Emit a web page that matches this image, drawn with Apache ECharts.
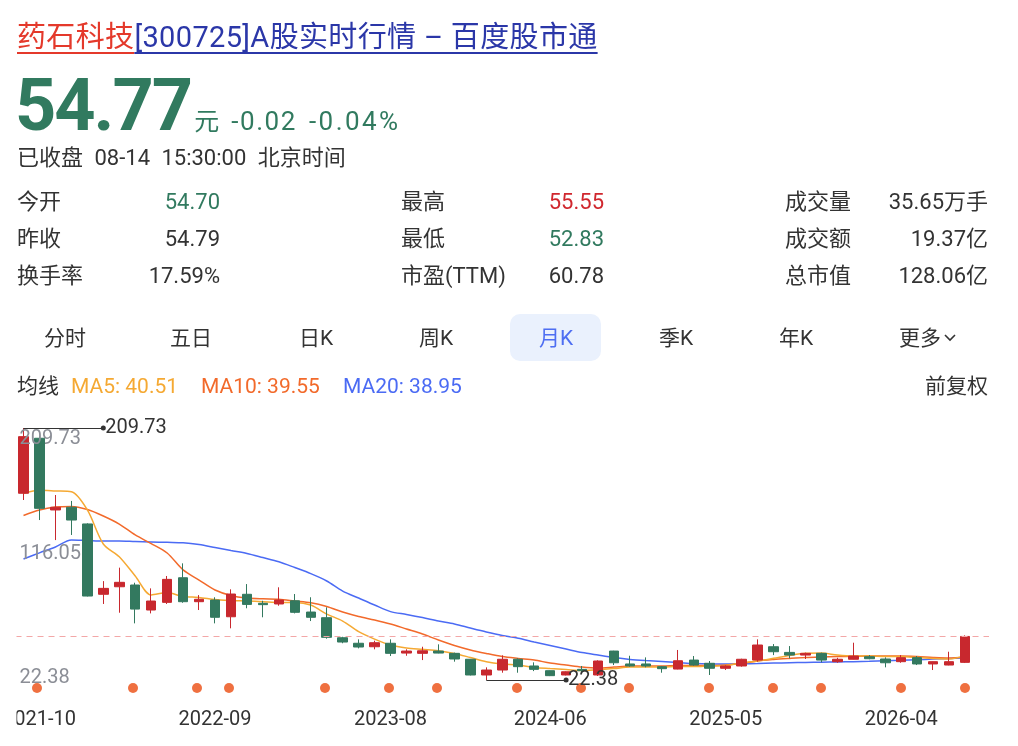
<!DOCTYPE html>
<html><head><meta charset="utf-8">
<script src="https://cdn.jsdelivr.net/npm/echarts@6/dist/echarts.min.js"></script>
<style>
body{margin:0;background:#fff;font-family:Roboto,"Noto Sans CJK SC",sans-serif;color:#333;}
#chart{position:absolute;left:0;top:0;width:1018px;height:746px;}
.h{position:absolute;white-space:nowrap;z-index:2;}
.r{text-align:right;}
.tab{position:absolute;width:100px;text-align:center;font-size:21px;line-height:30px;top:323px;z-index:2;color:#333;}
</style></head><body>
<div id="chart"></div>
<div class="h" style="left:17px;top:18px;font-size:29px;line-height:38px;letter-spacing:0.35px;">
<span style="color:#e4392b;text-decoration:underline;text-decoration-thickness:2px;text-underline-offset:5px;">药石科技</span><span style="color:#2b37a8;text-decoration:underline;text-decoration-thickness:2px;text-underline-offset:5px;">[300725]A股实时行情 – 百度股市通</span>
</div>
<div class="h" style="left:15px;top:66px;display:flex;align-items:baseline;color:#317a5f;">
<span style="font-size:72px;font-weight:700;letter-spacing:-2px;line-height:80px;">54.77</span>
<span style="font-size:25px;margin-left:3px;">元</span>
<span style="font-size:26px;margin-left:12px;letter-spacing:1.6px;">-0.02</span>
<span style="font-size:26px;margin-left:12px;letter-spacing:2.4px;">-0.04%</span>
</div>
<div class="h" style="left:17px;top:143px;font-size:22px;line-height:30px;word-spacing:6px;">已收盘 08-14 15:30:00 北京时间</div>

<div class="h" style="left:17px;top:187px;font-size:22px;line-height:30px;">今开</div>
<div class="h r" style="right:798px;top:187px;font-size:22px;line-height:30px;color:#317a5f;">54.70</div>
<div class="h" style="left:17px;top:224px;font-size:22px;line-height:30px;">昨收</div>
<div class="h r" style="right:798px;top:224px;font-size:22px;line-height:30px;">54.79</div>
<div class="h" style="left:17px;top:261px;font-size:22px;line-height:30px;">换手率</div>
<div class="h r" style="right:798px;top:261px;font-size:22px;line-height:30px;">17.59%</div>

<div class="h" style="left:401px;top:187px;font-size:22px;line-height:30px;">最高</div>
<div class="h r" style="right:414px;top:187px;font-size:22px;line-height:30px;color:#d0272e;">55.55</div>
<div class="h" style="left:401px;top:224px;font-size:22px;line-height:30px;">最低</div>
<div class="h r" style="right:414px;top:224px;font-size:22px;line-height:30px;color:#317a5f;">52.83</div>
<div class="h" style="left:401px;top:261px;font-size:22px;line-height:30px;">市盈(TTM)</div>
<div class="h r" style="right:414px;top:261px;font-size:22px;line-height:30px;">60.78</div>

<div class="h" style="left:785px;top:187px;font-size:22px;line-height:30px;">成交量</div>
<div class="h r" style="right:30px;top:187px;font-size:22px;line-height:30px;">35.65万手</div>
<div class="h" style="left:785px;top:224px;font-size:22px;line-height:30px;">成交额</div>
<div class="h r" style="right:30px;top:224px;font-size:22px;line-height:30px;">19.37亿</div>
<div class="h" style="left:785px;top:261px;font-size:22px;line-height:30px;">总市值</div>
<div class="h r" style="right:30px;top:261px;font-size:22px;line-height:30px;">128.06亿</div>

<div style="position:absolute;left:510px;top:314px;width:91px;height:47px;border-radius:10px;background:#eaf1fd;z-index:1;"></div>
<div class="tab" style="left:15px;">分时</div>
<div class="tab" style="left:141px;">五日</div>
<div class="tab" style="left:266px;">日K</div>
<div class="tab" style="left:386px;">周K</div>
<div class="tab" style="left:506px;color:#4e6ef2;">月K</div>
<div class="tab" style="left:626px;">季K</div>
<div class="tab" style="left:746px;">年K</div>
<div class="tab" style="left:878px;">更多<svg width="14" height="10" viewBox="0 0 14 10" style="margin-left:2px;vertical-align:2px;"><polyline points="2,2 7,7 12,2" fill="none" stroke="#333" stroke-width="1.6"/></svg></div>

<div class="h" style="left:17px;top:371px;font-size:21px;line-height:30px;">均线</div>
<div class="h" style="left:71px;top:371px;font-size:21px;line-height:30px;color:#f5a933;">MA5: 40.51</div>
<div class="h" style="left:201px;top:371px;font-size:21px;line-height:30px;color:#f26a2b;">MA10: 39.55</div>
<div class="h" style="left:343px;top:371px;font-size:21px;line-height:30px;color:#4b6bf4;">MA20: 38.95</div>
<div class="h r" style="right:30px;top:371px;font-size:21px;line-height:30px;">前复权</div>

<script>
const categories = ['2021-09','2021-10','2021-11','2021-12','2022-01','2022-02','2022-03','2022-04','2022-05','2022-06',
'2022-07','2022-08','2022-09','2022-10','2022-11','2022-12','2023-01','2023-02','2023-03','2023-04',
'2023-05','2023-06','2023-07','2023-08','2023-09','2023-10','2023-11','2023-12','2024-01','2024-02',
'2024-03','2024-04','2024-05','2024-06','2024-07','2024-08','2024-09','2024-10','2024-11','2024-12',
'2025-01','2025-02','2025-03','2025-04','2025-05','2025-06','2025-07','2025-08','2025-09','2025-10',
'2025-11','2025-12','2026-01','2026-02','2026-03','2026-04','2026-05','2026-06','2026-07','2026-08'];
const opens  = [161.2,202.1,148.8,150.8,138.4,86.1,91.7,93.0,74.4,80.1, 98.4,80.6,81.8,69.4,86.1,79.4,78.9,81.3,72.9,68.7,
 53.8,49.7,47.1,49.7,42.4,42.2,43.9,42.2,37.8,26.1, 29.8,37.8,32.8,29.3,26.1,30.3,26.1,43.9,34.3,34.3,
 32.3,30.5,37.2,34.8,31.1,32.8,37.2,47.1,42.9,40.9, 42.2,36.0,37.8,39.7,38.0,36.0,39.0,34.3,33.5,35.5];
const closes = [203.3,150.0,150.8,141.3,84.8,90.5,95.0,75.1,81.1,97.2, 80.6,82.4,69.0,86.3,78.6,78.4,81.8,72.7,69.0,54.1,
 50.6,46.9,50.1,42.2,43.9,44.1,42.4,38.0,26.1,29.8, 37.8,32.3,30.3,25.6,28.5,29.3,36.5,35.2,32.8,32.8,
 30.8,36.7,33.5,31.1,32.8,37.8,48.4,43.4,40.9,42.2, 37.2,37.8,40.2,38.2,35.2,39.0,34.3,36.0,36.0,54.77];
const lows   = [156.2,141.3,126.4,130.2,84.5,78.9,72.4,64.5,71.9,78.9, 79.8,74.4,64.5,60.8,75.7,69.0,77.6,71.9,66.2,53.1,
 49.7,45.9,45.2,40.2,40.4,37.2,42.2,36.0,25.8,22.38, 27.8,27.8,29.0,25.3,25.8,27.8,25.4,33.5,32.3,31.8,
 27.8,30.3,33.0,26.1,29.8,32.3,36.0,40.9,38.5,38.0, 35.5,35.2,37.6,37.8,31.8,35.2,33.5,29.8,33.3,35.0];
const highs  = [209.73,203.5,159.9,155.5,138.9,95.9,105.9,94.7,90.5,99.7, 109.1,85.5,83.9,89.8,93.7,81.3,91.3,86.3,83.9,76.4,
 54.5,52.6,51.6,52.6,45.2,47.1,48.9,42.7,38.0,31.8, 40.7,38.5,35.5,29.5,28.8,32.8,37.0,44.1,40.4,39.2,
 32.8,44.7,40.2,36.5,33.3,38.2,52.6,49.1,47.6,42.7, 42.7,38.9,50.1,40.9,39.2,40.9,40.2,36.2,43.4,55.55];
const ma5  = [161.0,163.4,162.9,162.3,148.8,123.5,114.0,99.7,85.6,87.4, 84.4,83.8,82.2,81.5,81.1,80.6,80.0,80.0,78.1,71.4,
 66.2,58.3,52.8,48.4,46.2,45.2,44.2,42.1,39.1,36.0, 34.3,33.5,31.7,30.9,30.2,29.4,30.2,30.9,32.0,32.0,
 32.0,32.4,32.4,32.8,33.1,35.0,36.5,38.5,40.6,42.2, 42.4,40.9,40.2,40.2,39.8,39.8,39.1,38.4,38.0,40.51];
const ma10 = [144.7,148.8,151.0,151.4,149.1,144.3,138.3,130.2,123.8,116.8, 104.2,96.7,89.3,85.2,83.3,82.7,82.4,81.1,79.8,77.0,
 72.9,69.6,67.0,64.0,60.3,56.6,52.1,48.0,44.7,42.1, 39.8,38.4,37.2,35.0,33.5,32.0,31.3,32.0,32.8,32.8,
 32.8,33.1,33.1,33.1,33.5,34.6,36.5,37.6,38.4,39.1, 39.5,39.8,40.0,40.2,40.2,40.2,39.8,39.1,38.7,39.55];
const ma20 = [112.3,116.9,121.3,126.5,126.1,125.7,125.7,125.3,125.0,124.7, 124.4,123.1,120.9,118.6,116.4,113.4,110.3,106.0,101.5,96.0,
 88.5,83.3,78.1,73.2,71.1,68.8,66.2,64.0,61.0,58.1, 55.5,53.4,50.6,48.0,45.4,42.8,40.9,39.1,37.7,36.8,
 36.1,35.4,34.6,34.3,34.3,34.4,34.6,35.0,35.2,35.4, 35.6,35.8,36.0,36.3,36.7,37.0,37.5,37.9,38.4,38.95];
const xTickLabels = ['2021-10','2022-09','2023-08','2024-06','2025-05','2026-04'];
const yTickLabels = ['22.38','116.05','209.73'];
const eventMonths = ['2021-10','2022-04','2022-08','2022-10','2023-04','2023-08','2023-11','2024-04','2024-08','2024-11',
 '2025-04','2025-08','2025-11','2026-04','2026-08'];

const RED = '#c8282e', GREEN = '#33795f';
const FONT = 'Roboto, "Noto Sans CJK SC", sans-serif';
const candleData = categories.map((c, i) => [opens[i], closes[i], lows[i], highs[i]]);
const maxHigh = Math.max(...highs), minLow = Math.min(...lows);
const maxIdx = highs.indexOf(maxHigh), minIdx = lows.indexOf(minLow);
const lastClose = closes[closes.length - 1];

const chart = echarts.init(document.getElementById('chart'));
chart.setOption({
  animation: false,
  textStyle: { fontFamily: FONT },
  grid: [
    { left: 13, right: 29, top: 428, height: 252 },
    { left: 13, right: 29, top: 683, height: 10 }
  ],
  xAxis: [
    { type: 'category', gridIndex: 0, data: categories, max: categories.length, boundaryGap: true,
      axisLine: { show: false }, axisTick: { show: false }, splitLine: { show: false },
      axisLabel: { interval: (i, v) => xTickLabels.includes(v), margin: 30, fontSize: 20, color: '#333', fontFamily: FONT } },
    { type: 'category', gridIndex: 1, data: categories, max: categories.length, boundaryGap: true, show: false }
  ],
  yAxis: [
    { type: 'value', gridIndex: 0, min: minLow, max: maxHigh, position: 'right', show: false, splitLine: { show: false } },
    { type: 'value', gridIndex: 0, min: 0, max: 2, interval: 1, position: 'left', z: 10,
      axisLine: { show: false }, axisTick: { show: false }, splitLine: { show: false },
      axisLabel: { inside: true, margin: 4, color: '#8b8e96', fontSize: 20, fontFamily: FONT,
        formatter: v => (v === 2 ? '{t|' : v === 0 ? '{b|' : '{m|') + yTickLabels[v] + '}',
        rich: {
          t: { padding: [22, 0, 0, 0], color: '#8b8e96', fontSize: 20, fontFamily: FONT },
          m: { color: '#8b8e96', fontSize: 20, fontFamily: FONT },
          b: { padding: [0, 0, 5, 0], color: '#8b8e96', fontSize: 20, fontFamily: FONT }
        } } },
    { type: 'value', gridIndex: 1, min: -1, max: 1, show: false }
  ],
  graphic: [
    { type: 'rect', left: 0, top: 405, shape: { width: 16.5, height: 341 }, style: { fill: '#fff' }, z: 100 }
  ],
  series: [
    { name: 'MA20', type: 'line', xAxisIndex: 0, yAxisIndex: 0, data: ma20, symbol: 'none', smooth: 0.3, z: 1,
      lineStyle: { color: '#4b6bf4', width: 1.5 } },
    { name: 'MA10', type: 'line', xAxisIndex: 0, yAxisIndex: 0, data: ma10, symbol: 'none', smooth: 0.3, z: 1,
      lineStyle: { color: '#f26a2b', width: 1.5 } },
    { name: 'MA5', type: 'line', xAxisIndex: 0, yAxisIndex: 0, data: ma5, symbol: 'none', smooth: 0.3, z: 1,
      lineStyle: { color: '#f5a933', width: 1.5 } },
    { name: 'K', type: 'candlestick', xAxisIndex: 0, yAxisIndex: 0, data: candleData, barWidth: 10, z: 3,
      itemStyle: { color: RED, color0: GREEN, borderColor: RED, borderColor0: GREEN, borderWidth: 1 },
      markLine: {
        silent: true, animation: false, precision: 2, symbol: ['none', 'none'],
        data: [
          { yAxis: lastClose, lineStyle: { color: '#f3a7a7', type: [6, 5], width: 1 }, label: { show: false } },
          [ { coord: [categories[maxIdx], maxHigh], symbol: 'none' },
            { coord: [categories[maxIdx + 5], maxHigh], symbol: 'circle', symbolSize: 5,
              lineStyle: { color: '#333', width: 1.2, type: 'solid' },
              label: { show: true, position: 'end', formatter: maxHigh.toFixed(2), color: '#333', fontSize: 20, distance: 2, fontFamily: FONT } } ],
          [ { coord: [categories[minIdx], minLow], symbol: 'none' },
            { coord: [categories[minIdx + 5], minLow], symbol: 'circle', symbolSize: 5,
              lineStyle: { color: '#333', width: 1.2, type: 'solid' },
              label: { show: true, position: 'end', formatter: minLow.toFixed(2), color: '#333', fontSize: 20, distance: 2, fontFamily: FONT } } ]
        ]
      } },
    { name: 'events', type: 'scatter', xAxisIndex: 1, yAxisIndex: 2, data: eventMonths.map(m => [m, 0]),
      symbolSize: 10, itemStyle: { color: '#ef7040', opacity: 1 } }
  ]
});
</script>
</body></html>
